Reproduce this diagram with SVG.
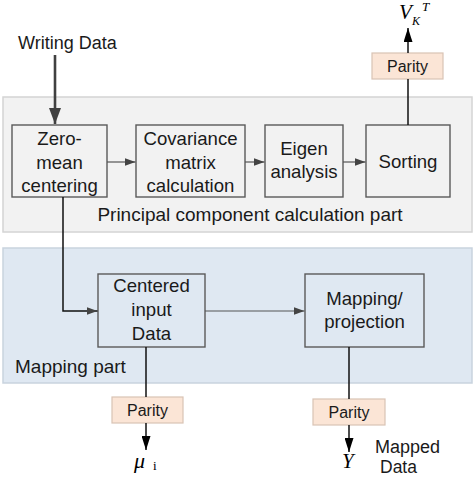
<svg xmlns="http://www.w3.org/2000/svg" width="474" height="478" viewBox="0 0 474 478">
  <style>
    .t { font-family: "Liberation Sans", Arial, sans-serif; fill: #1a1a1a; }
    .bt { font-size: 18.6px; text-anchor: middle; }
    .box { fill: none; stroke: #5a5a5a; stroke-width: 1.4; }
    .par { fill: #fbe5d6; stroke: #d9c3b4; stroke-width: 1.2; }
    .pt { font-size: 16px; text-anchor: middle; }
    .m { font-family: "Liberation Serif", "Times New Roman", serif; font-style: italic; fill: #000; }
    .lg { fill: none; stroke: #555; stroke-width: 1.2; }
    .lb { fill: none; stroke: #111; stroke-width: 1.5; }
  </style>
  <defs>
    <marker id="ag" markerUnits="userSpaceOnUse" markerWidth="11" markerHeight="8" refX="11" refY="4" orient="auto">
      <path d="M0,0 L11,4 L0,8 z" fill="#444"/>
    </marker>
    <marker id="ab" markerUnits="userSpaceOnUse" markerWidth="14" markerHeight="9" refX="14" refY="4.5" orient="auto">
      <path d="M0,0 L14,4.5 L0,9 z" fill="#000"/>
    </marker>
    <marker id="aw" markerUnits="userSpaceOnUse" markerWidth="16" markerHeight="12" refX="16" refY="6" orient="auto">
      <path d="M0,0 L16,6 L0,12 z" fill="#404040"/>
    </marker>
  </defs>

  <!-- panels -->
  <g id="panel-pca">
    <rect x="3" y="97" width="469" height="135" fill="#f2f2f2" stroke="#d4d4d4" stroke-width="1.5"/>
    <text class="t" x="250" y="221" font-size="19" text-anchor="middle">Principal component calculation part</text>
  </g>
  <g id="panel-mapping">
    <rect x="3" y="248" width="469" height="135" fill="#dfe8f2" stroke="#c9d3de" stroke-width="1.5"/>
    <text class="t" x="15" y="373" font-size="19">Mapping part</text>
  </g>

  <!-- input label -->
  <g id="writing-data">
    <text class="t" x="18" y="49" font-size="18">Writing Data</text>
  </g>

  <!-- nodes -->
  <g id="zero-mean">
    <rect class="box" x="12" y="125" width="95" height="72"/>
    <text class="t bt" x="59.5" y="145">Zero-</text>
    <text class="t bt" x="59.5" y="169">mean</text>
    <text class="t bt" x="59.5" y="192">centering</text>
  </g>
  <g id="covariance">
    <rect class="box" x="136" y="125" width="109" height="72"/>
    <text class="t bt" x="190.5" y="145">Covariance</text>
    <text class="t bt" x="190.5" y="169">matrix</text>
    <text class="t bt" x="190.5" y="192">calculation</text>
  </g>
  <g id="eigen">
    <rect class="box" x="265" y="125" width="78" height="72"/>
    <text class="t bt" x="304" y="155">Eigen</text>
    <text class="t bt" x="304" y="178">analysis</text>
  </g>
  <g id="sorting">
    <rect class="box" x="366" y="125" width="84" height="72"/>
    <text class="t bt" x="408" y="168">Sorting</text>
  </g>
  <g id="centered">
    <rect class="box" x="98" y="274" width="107" height="73"/>
    <text class="t bt" x="151.5" y="292">Centered</text>
    <text class="t bt" x="151.5" y="316">input</text>
    <text class="t bt" x="151.5" y="340">Data</text>
  </g>
  <g id="mapping">
    <rect class="box" x="305" y="274" width="119" height="73"/>
    <text class="t bt" x="364.5" y="305">Mapping/</text>
    <text class="t bt" x="364.5" y="328">projection</text>
  </g>

  <g id="parity-top">
    <rect class="par" x="372" y="53" width="71" height="26"/>
    <text class="t pt" x="407.5" y="71.5">Parity</text>
  </g>
  <g id="parity-left">
    <rect class="par" x="112" y="397" width="71" height="26"/>
    <text class="t pt" x="147.5" y="415.5">Parity</text>
  </g>
  <g id="parity-right">
    <rect class="par" x="313" y="399" width="72" height="26"/>
    <text class="t pt" x="349" y="417.5">Parity</text>
  </g>

  <!-- outputs -->
  <g id="out-vk">
    <text class="m" x="399" y="19" font-size="21">V</text>
    <text class="m" x="412" y="25" font-size="12">K</text>
    <text class="m" x="422" y="10.5" font-size="13">T</text>
  </g>
  <g id="out-mu">
    <text class="m" x="134" y="468" font-size="22">μ</text>
    <text x="153" y="470" font-size="13" font-family="Liberation Serif, serif" fill="#000">i</text>
  </g>
  <g id="out-y">
    <text class="m" x="342" y="468" font-size="21">Y</text>
    <text class="t" x="375" y="453" font-size="18">Mapped</text>
    <text class="t" x="380" y="473" font-size="17.5">Data</text>
  </g>

  <!-- connectors -->
  <g id="connectors">
    <line x1="55" y1="55" x2="55" y2="124" stroke="#404040" stroke-width="2.6" marker-end="url(#aw)"/>
    <line class="lg" x1="107" y1="162" x2="135.5" y2="162" marker-end="url(#ag)"/>
    <line class="lg" x1="245" y1="162" x2="264.5" y2="162" marker-end="url(#ag)"/>
    <line class="lg" x1="343" y1="162" x2="365.5" y2="162" marker-end="url(#ag)"/>
    <polyline class="lb" points="63,197 63,311 97.5,311" stroke-width="1.3" marker-end="url(#ag)"/>
    <line class="lg" x1="205" y1="311" x2="304.5" y2="311" marker-end="url(#ag)"/>
    <line class="lb" x1="408" y1="125" x2="408" y2="79"/>
    <line class="lb" x1="408" y1="53" x2="408" y2="28" marker-end="url(#ab)"/>
    <line class="lb" x1="146" y1="347" x2="146" y2="397"/>
    <line class="lb" x1="146" y1="423" x2="146" y2="450" marker-end="url(#ab)"/>
    <line class="lb" x1="349" y1="347" x2="349" y2="399"/>
    <line class="lb" x1="349" y1="425" x2="349" y2="452" marker-end="url(#ab)"/>
  </g>
</svg>
